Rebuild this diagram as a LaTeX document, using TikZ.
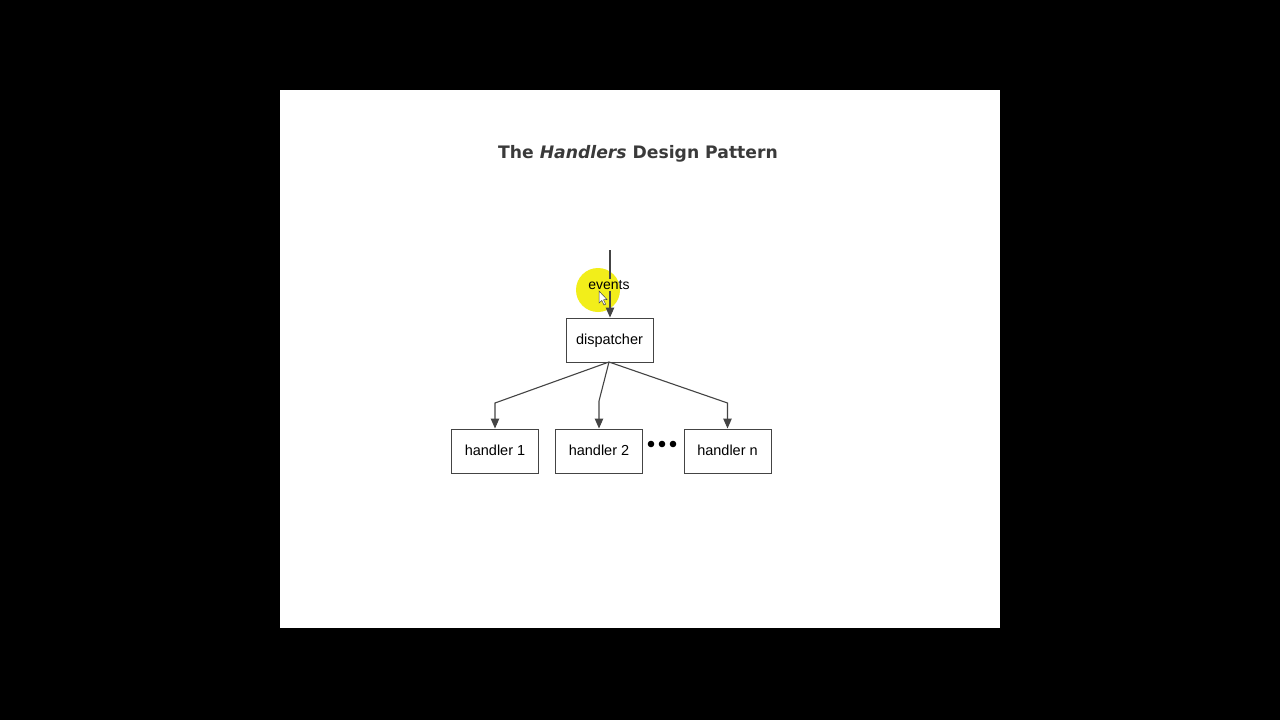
\documentclass[tikz,border=0pt]{standalone}
\usepackage{fontspec}
\setmainfont{Liberation Sans}
\newfontfamily\titlefont{DejaVu Sans}
\usetikzlibrary{arrows.meta}
\definecolor{titlegray}{HTML}{3A3A3A}
\definecolor{linegray}{HTML}{444444}
\definecolor{hl}{HTML}{F2EE1A}
\begin{document}
\begin{tikzpicture}[x=1pt,y=-1pt,
  box/.style={draw=linegray,line width=1pt,minimum width=87pt,minimum height=44pt,inner sep=0pt,text height=10.5pt,text depth=2.5pt,font=\fontsize{14.5}{16}\selectfont,text=black},
  conn/.style={draw=linegray,line width=1.1pt,-{Triangle[length=10pt,width=8.5pt]}}]
\fill[black] (0,0) rectangle (1280,720);
\fill[white] (280,90) rectangle (1000,628);
\useasboundingbox (0,0) rectangle (1280,720);
\node[text=titlegray,font=\titlefont\bfseries\fontsize{17.2}{20}\selectfont] (title) at (638,153.5) {The \textit{Handlers} Design Pattern};
\fill[hl] (598,290) circle (22);
\coordinate (src) at (610,250);
\node[box] (disp) at (609.5,340) {dispatcher};
\node[font=\fontsize{14}{16}\selectfont,inner sep=1pt] (ev) at (609,285) {events};
\draw[draw=linegray,line width=1.1pt] (src) -- (src|-ev.north);
\draw[conn] (ev.south-|src) -- (src|-disp.north);
\node[box] (h1) at (495,451) {handler 1};
\node[box] (h2) at (599,451) {handler 2};
\node[box] (hn) at (727.5,451) {handler n};
\coordinate (o) at (609,362);
\draw[conn] (o) -- (495,403) -- (h1.north);
\draw[conn] (o) -- (599,401) -- (h2.north);
\draw[conn] (o) -- (727.5,403) -- (hn.north);
\foreach \x [count=\i] in {651,662,673} \fill[black] (\x,444) circle (3.3) coordinate (dot\i);
\draw[fill=white,draw=linegray,line width=0.5pt] (599,291) -- (599,303) -- (601.8,300.5) -- (604,305) -- (605.6,304.2) -- (603.5,299.8) -- (607,299.5) -- cycle;
\end{tikzpicture}
\end{document}
